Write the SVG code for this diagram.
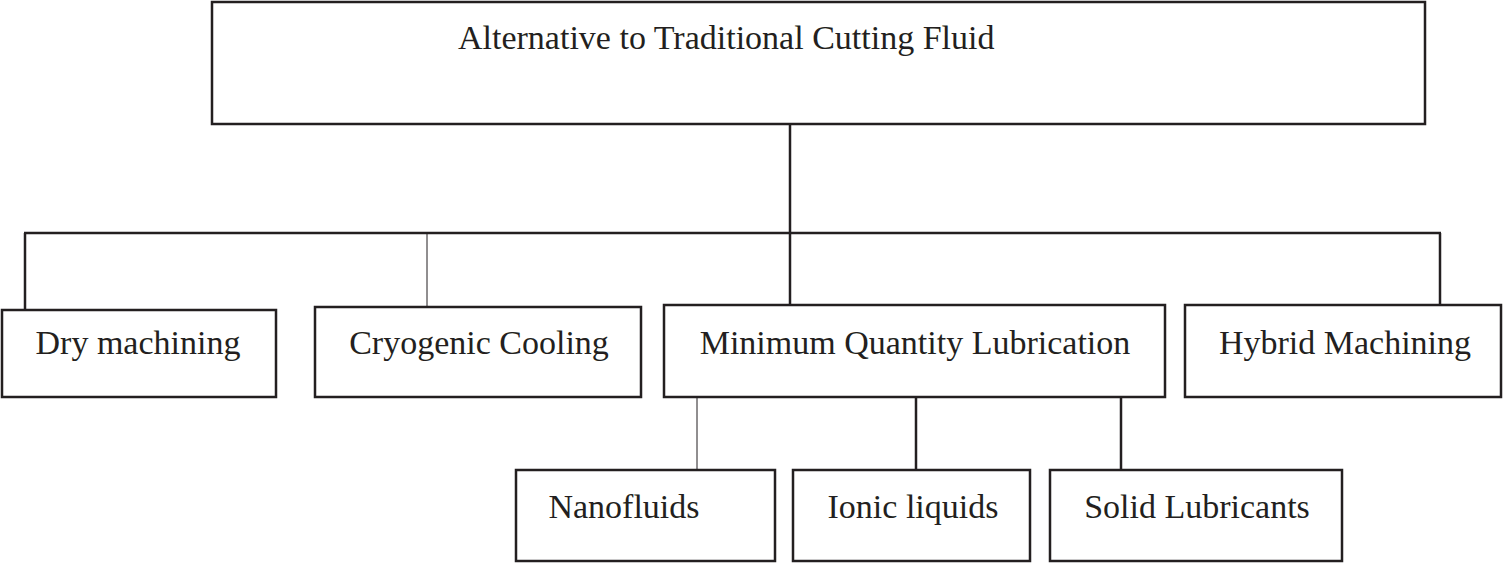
<svg xmlns="http://www.w3.org/2000/svg" width="1503" height="563" viewBox="0 0 1503 563">
<style>
rect{fill:#fff;stroke:#231f20;stroke-width:2.5}
text{font-family:"Liberation Serif",serif;font-size:34px;fill:#231f20}
.c line{stroke:#231f20;stroke-width:2.5}
.c line.t{stroke-width:1}
</style>
<rect x="0" y="0" width="1503" height="563" style="stroke:none"/>
<g class="c">
<line x1="790" y1="124" x2="790" y2="233"/>
<line x1="24" y1="233" x2="1441" y2="233"/>
<line x1="25" y1="233" x2="25" y2="310"/>
<line class="t" x1="427" y1="233" x2="427" y2="307"/>
<line x1="790" y1="233" x2="790" y2="305"/>
<line x1="1440" y1="233" x2="1440" y2="305"/>
<line class="t" x1="697" y1="397" x2="697" y2="470"/>
<line x1="916" y1="397" x2="916" y2="470"/>
<line x1="1121" y1="397" x2="1121" y2="470"/>
</g>
<g id="root"><rect x="212" y="2" width="1213" height="122"/><text x="458" y="49">Alternative to Traditional Cutting Fluid</text></g>
<g id="dry"><rect x="2" y="310" width="274" height="87"/><text x="138" y="354" text-anchor="middle">Dry machining</text></g>
<g id="cryo"><rect x="315" y="307" width="326" height="90"/><text x="479" y="354" text-anchor="middle">Cryogenic Cooling</text></g>
<g id="mql"><rect x="664" y="305" width="501" height="92"/><text x="915" y="354" text-anchor="middle">Minimum Quantity Lubrication</text></g>
<g id="hybrid"><rect x="1185" y="305" width="316" height="92"/><text x="1345" y="354" text-anchor="middle">Hybrid Machining</text></g>
<g id="nano"><rect x="516" y="470" width="259" height="91"/><text x="624" y="518" text-anchor="middle">Nanofluids</text></g>
<g id="ionic"><rect x="793" y="470" width="237" height="91"/><text x="913" y="518" text-anchor="middle">Ionic liquids</text></g>
<g id="solid"><rect x="1050" y="470" width="292" height="91"/><text x="1197" y="518" text-anchor="middle">Solid Lubricants</text></g>
</svg>
